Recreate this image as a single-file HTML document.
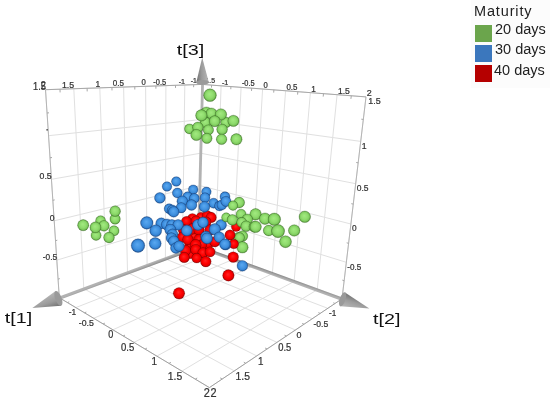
<!DOCTYPE html>
<html><head><meta charset="utf-8"><style>
html,body{margin:0;padding:0;background:#fff;}
#c{position:relative;width:550px;height:402px;overflow:hidden;background:#fff;font-family:"Liberation Sans",Arial,sans-serif;}
svg{position:absolute;left:0;top:0;}
.lg{position:absolute;left:471px;top:0;width:79px;height:88px;background:#fcfcfc;}
.lt{position:absolute;font-size:15.2px;color:#1e1e1e;white-space:nowrap;line-height:1;transform:scaleX(0.955);transform-origin:0 0;}
.sw{position:absolute;left:475px;width:17px;height:17px;}
</style></head><body><div id="c">
<div class="lg"></div>
<div class="lt" style="left:474.0px;top:3.2px;letter-spacing:0.9px;">Maturity</div>
<div class="sw" style="top:24.5px;background:#6ba54c;"></div>
<div class="sw" style="top:45px;background:#3b77bd;"></div>
<div class="sw" style="top:65.3px;background:#b50000;"></div>
<div class="lt" style="left:494.6px;top:20.8px;">20 days</div>
<div class="lt" style="left:494.6px;top:41.3px;">30 days</div>
<div class="lt" style="left:493.6px;top:61.8px;">40 days</div>
<svg width="550" height="402" viewBox="0 0 550 402">
<defs><linearGradient id="shaft_x" gradientUnits="userSpaceOnUse" x1="197.8" y1="245.2" x2="199.0" y2="248.3"><stop offset="0" stop-color="#b2b2b2"/><stop offset="0.5" stop-color="#9c9c9c"/><stop offset="1" stop-color="#787878"/></linearGradient><linearGradient id="cone_x" gradientUnits="userSpaceOnUse" x1="55.6" y1="291.0" x2="61.2" y2="305.8"><stop offset="0" stop-color="#b8b8b8"/><stop offset="0.55" stop-color="#9c9c9c"/><stop offset="0.9" stop-color="#7a7a7a"/><stop offset="1" stop-color="#686868"/></linearGradient><linearGradient id="shaft_y" gradientUnits="userSpaceOnUse" x1="197.8" y1="248.3" x2="198.9" y2="245.2"><stop offset="0" stop-color="#b2b2b2"/><stop offset="0.5" stop-color="#9c9c9c"/><stop offset="1" stop-color="#787878"/></linearGradient><linearGradient id="cone_y" gradientUnits="userSpaceOnUse" x1="340.2" y1="306.2" x2="345.0" y2="292.4"><stop offset="0" stop-color="#b8b8b8"/><stop offset="0.55" stop-color="#9c9c9c"/><stop offset="0.9" stop-color="#7a7a7a"/><stop offset="1" stop-color="#686868"/></linearGradient><linearGradient id="shaft_z" gradientUnits="userSpaceOnUse" x1="199.8" y1="246.7" x2="196.9" y2="246.8"><stop offset="0" stop-color="#b2b2b2"/><stop offset="0.5" stop-color="#9c9c9c"/><stop offset="1" stop-color="#787878"/></linearGradient><linearGradient id="cone_z" gradientUnits="userSpaceOnUse" x1="208.8" y1="82.3" x2="196.3" y2="82.5"><stop offset="0" stop-color="#b8b8b8"/><stop offset="0.55" stop-color="#9c9c9c"/><stop offset="0.9" stop-color="#7a7a7a"/><stop offset="1" stop-color="#686868"/></linearGradient><radialGradient id="g" cx="0.5" cy="0.5" r="0.5" fx="0.45" fy="0.4"><stop offset="0" stop-color="#a2ea80"/><stop offset="0.55" stop-color="#90dc6e"/><stop offset="0.8" stop-color="#7ecb5e"/><stop offset="0.91" stop-color="#62a646"/><stop offset="1" stop-color="#44792c"/></radialGradient><radialGradient id="b" cx="0.5" cy="0.5" r="0.5" fx="0.45" fy="0.4"><stop offset="0" stop-color="#5aa8f0"/><stop offset="0.55" stop-color="#4394e2"/><stop offset="0.8" stop-color="#3584d4"/><stop offset="0.91" stop-color="#2866ad"/><stop offset="1" stop-color="#1a4a85"/></radialGradient><radialGradient id="r" cx="0.5" cy="0.5" r="0.5" fx="0.45" fy="0.4"><stop offset="0" stop-color="#ff2424"/><stop offset="0.55" stop-color="#ff0000"/><stop offset="0.8" stop-color="#e60000"/><stop offset="0.91" stop-color="#b80000"/><stop offset="1" stop-color="#800000"/></radialGradient></defs>
<g shape-rendering="geometricPrecision">
<line x1="198.4" y1="246.8" x2="202.3" y2="84.4" stroke="#e0e0e0" stroke-width="1.0"/>
<line x1="182.4" y1="252.6" x2="184.8" y2="85.0" stroke="#e0e0e0" stroke-width="1.0"/>
<line x1="165.4" y1="258.9" x2="165.9" y2="85.6" stroke="#e0e0e0" stroke-width="1.0"/>
<line x1="147.1" y1="265.5" x2="145.6" y2="86.3" stroke="#e0e0e0" stroke-width="1.0"/>
<line x1="127.5" y1="272.7" x2="123.6" y2="87.0" stroke="#e0e0e0" stroke-width="1.0"/>
<line x1="106.5" y1="280.4" x2="99.8" y2="87.8" stroke="#e0e0e0" stroke-width="1.0"/>
<line x1="83.8" y1="288.7" x2="73.8" y2="88.7" stroke="#e0e0e0" stroke-width="1.0"/>
<line x1="59.3" y1="297.7" x2="45.5" y2="89.7" stroke="#e0e0e0" stroke-width="1.0"/>
<line x1="198.4" y1="246.8" x2="59.3" y2="297.7" stroke="#e0e0e0" stroke-width="1.0"/>
<line x1="199.1" y1="216.8" x2="56.8" y2="260.2" stroke="#e0e0e0" stroke-width="1.0"/>
<line x1="199.9" y1="185.6" x2="54.2" y2="220.8" stroke="#e0e0e0" stroke-width="1.0"/>
<line x1="200.6" y1="153.2" x2="51.4" y2="179.3" stroke="#e0e0e0" stroke-width="1.0"/>
<line x1="201.4" y1="119.5" x2="48.5" y2="135.7" stroke="#e0e0e0" stroke-width="1.0"/>
<line x1="202.3" y1="84.4" x2="45.5" y2="89.7" stroke="#e0e0e0" stroke-width="1.0"/>
<line x1="198.4" y1="246.8" x2="202.3" y2="84.4" stroke="#e0e0e0" stroke-width="1.0"/>
<line x1="215.3" y1="252.9" x2="221.1" y2="85.8" stroke="#e0e0e0" stroke-width="1.0"/>
<line x1="233.1" y1="259.4" x2="241.1" y2="87.3" stroke="#e0e0e0" stroke-width="1.0"/>
<line x1="252.2" y1="266.3" x2="262.6" y2="89.0" stroke="#e0e0e0" stroke-width="1.0"/>
<line x1="272.4" y1="273.6" x2="285.6" y2="90.7" stroke="#e0e0e0" stroke-width="1.0"/>
<line x1="294.1" y1="281.4" x2="310.4" y2="92.6" stroke="#e0e0e0" stroke-width="1.0"/>
<line x1="317.2" y1="289.8" x2="337.1" y2="94.6" stroke="#e0e0e0" stroke-width="1.0"/>
<line x1="342.0" y1="298.8" x2="366.0" y2="96.9" stroke="#e0e0e0" stroke-width="1.0"/>
<line x1="198.4" y1="246.8" x2="342.0" y2="298.8" stroke="#e0e0e0" stroke-width="1.0"/>
<line x1="199.1" y1="216.8" x2="346.3" y2="262.3" stroke="#e0e0e0" stroke-width="1.0"/>
<line x1="199.9" y1="185.6" x2="350.9" y2="224.0" stroke="#e0e0e0" stroke-width="1.0"/>
<line x1="200.6" y1="153.2" x2="355.7" y2="183.7" stroke="#e0e0e0" stroke-width="1.0"/>
<line x1="201.4" y1="119.5" x2="360.7" y2="141.4" stroke="#e0e0e0" stroke-width="1.0"/>
<line x1="202.3" y1="84.4" x2="366.0" y2="96.9" stroke="#e0e0e0" stroke-width="1.0"/>
<line x1="198.4" y1="246.8" x2="342.0" y2="298.8" stroke="#e0e0e0" stroke-width="1.0"/>
<line x1="182.4" y1="252.6" x2="327.7" y2="308.3" stroke="#e0e0e0" stroke-width="1.0"/>
<line x1="165.4" y1="258.9" x2="312.3" y2="318.7" stroke="#e0e0e0" stroke-width="1.0"/>
<line x1="147.1" y1="265.5" x2="295.4" y2="330.0" stroke="#e0e0e0" stroke-width="1.0"/>
<line x1="127.5" y1="272.7" x2="277.0" y2="342.4" stroke="#e0e0e0" stroke-width="1.0"/>
<line x1="106.5" y1="280.4" x2="256.7" y2="355.9" stroke="#e0e0e0" stroke-width="1.0"/>
<line x1="83.8" y1="288.7" x2="234.3" y2="370.9" stroke="#e0e0e0" stroke-width="1.0"/>
<line x1="59.3" y1="297.7" x2="209.4" y2="387.6" stroke="#e0e0e0" stroke-width="1.0"/>
<line x1="198.4" y1="246.8" x2="59.3" y2="297.7" stroke="#e0e0e0" stroke-width="1.0"/>
<line x1="215.3" y1="252.9" x2="75.8" y2="307.6" stroke="#e0e0e0" stroke-width="1.0"/>
<line x1="233.1" y1="259.4" x2="93.6" y2="318.3" stroke="#e0e0e0" stroke-width="1.0"/>
<line x1="252.2" y1="266.3" x2="112.9" y2="329.8" stroke="#e0e0e0" stroke-width="1.0"/>
<line x1="272.4" y1="273.6" x2="133.9" y2="342.4" stroke="#e0e0e0" stroke-width="1.0"/>
<line x1="294.1" y1="281.4" x2="156.8" y2="356.1" stroke="#e0e0e0" stroke-width="1.0"/>
<line x1="317.2" y1="289.8" x2="181.9" y2="371.1" stroke="#e0e0e0" stroke-width="1.0"/>
<line x1="342.0" y1="298.8" x2="209.4" y2="387.6" stroke="#e0e0e0" stroke-width="1.0"/>
<line x1="59.3" y1="297.7" x2="45.5" y2="89.7" stroke="#b4b4b4" stroke-width="1.0"/>
<line x1="342.0" y1="298.8" x2="366.0" y2="96.9" stroke="#b4b4b4" stroke-width="1.0"/>
<line x1="202.3" y1="84.4" x2="45.5" y2="89.7" stroke="#a8a8a8" stroke-width="1.0"/>
<line x1="202.3" y1="84.4" x2="366.0" y2="96.9" stroke="#a8a8a8" stroke-width="1.0"/>
<line x1="59.3" y1="297.7" x2="209.4" y2="387.6" stroke="#a2a2a2" stroke-width="1.0"/>
<line x1="342.0" y1="298.8" x2="209.4" y2="387.6" stroke="#a2a2a2" stroke-width="1.0"/>
<line x1="193.7" y1="84.7" x2="193.6" y2="87.2" stroke="#a8a8a8" stroke-width="1.0"/>
<line x1="335.0" y1="303.5" x2="333.2" y2="302.8" stroke="#a8a8a8" stroke-width="1.0"/>
<line x1="175.5" y1="85.3" x2="175.5" y2="87.9" stroke="#a8a8a8" stroke-width="1.0"/>
<line x1="320.2" y1="313.4" x2="318.3" y2="312.7" stroke="#a8a8a8" stroke-width="1.0"/>
<line x1="155.9" y1="85.9" x2="155.9" y2="88.7" stroke="#a8a8a8" stroke-width="1.0"/>
<line x1="304.0" y1="324.2" x2="302.2" y2="323.4" stroke="#a8a8a8" stroke-width="1.0"/>
<line x1="134.8" y1="86.7" x2="134.8" y2="89.5" stroke="#a8a8a8" stroke-width="1.0"/>
<line x1="286.4" y1="336.0" x2="284.5" y2="335.2" stroke="#a8a8a8" stroke-width="1.0"/>
<line x1="111.9" y1="87.4" x2="112.0" y2="90.4" stroke="#a8a8a8" stroke-width="1.0"/>
<line x1="267.1" y1="349.0" x2="265.1" y2="348.0" stroke="#a8a8a8" stroke-width="1.0"/>
<line x1="87.1" y1="88.3" x2="87.2" y2="91.4" stroke="#a8a8a8" stroke-width="1.0"/>
<line x1="245.8" y1="363.3" x2="243.8" y2="362.2" stroke="#a8a8a8" stroke-width="1.0"/>
<line x1="60.0" y1="89.2" x2="60.1" y2="92.4" stroke="#a8a8a8" stroke-width="1.0"/>
<line x1="222.2" y1="379.0" x2="220.2" y2="377.9" stroke="#a8a8a8" stroke-width="1.0"/>
<line x1="211.5" y1="85.1" x2="211.5" y2="87.6" stroke="#a8a8a8" stroke-width="1.0"/>
<line x1="67.4" y1="302.5" x2="69.2" y2="301.9" stroke="#a8a8a8" stroke-width="1.0"/>
<line x1="230.9" y1="86.6" x2="230.8" y2="89.2" stroke="#a8a8a8" stroke-width="1.0"/>
<line x1="84.5" y1="312.8" x2="86.3" y2="312.1" stroke="#a8a8a8" stroke-width="1.0"/>
<line x1="251.7" y1="88.1" x2="251.5" y2="90.9" stroke="#a8a8a8" stroke-width="1.0"/>
<line x1="103.1" y1="323.9" x2="104.9" y2="323.1" stroke="#a8a8a8" stroke-width="1.0"/>
<line x1="273.9" y1="89.8" x2="273.7" y2="92.6" stroke="#a8a8a8" stroke-width="1.0"/>
<line x1="123.2" y1="336.0" x2="125.0" y2="335.1" stroke="#a8a8a8" stroke-width="1.0"/>
<line x1="297.8" y1="91.7" x2="297.6" y2="94.6" stroke="#a8a8a8" stroke-width="1.0"/>
<line x1="145.1" y1="349.1" x2="146.9" y2="348.1" stroke="#a8a8a8" stroke-width="1.0"/>
<line x1="323.5" y1="93.6" x2="323.2" y2="96.6" stroke="#a8a8a8" stroke-width="1.0"/>
<line x1="169.0" y1="363.4" x2="170.9" y2="362.3" stroke="#a8a8a8" stroke-width="1.0"/>
<line x1="351.3" y1="95.7" x2="350.9" y2="98.9" stroke="#a8a8a8" stroke-width="1.0"/>
<line x1="195.3" y1="379.1" x2="197.2" y2="378.0" stroke="#a8a8a8" stroke-width="1.0"/>
<line x1="58.0" y1="279.2" x2="59.8" y2="278.6" stroke="#a8a8a8" stroke-width="1.0"/>
<line x1="344.1" y1="280.8" x2="342.3" y2="280.1" stroke="#a8a8a8" stroke-width="1.0"/>
<line x1="55.5" y1="240.7" x2="57.3" y2="240.2" stroke="#a8a8a8" stroke-width="1.0"/>
<line x1="348.6" y1="243.4" x2="346.7" y2="242.8" stroke="#a8a8a8" stroke-width="1.0"/>
<line x1="52.8" y1="200.3" x2="54.7" y2="199.9" stroke="#a8a8a8" stroke-width="1.0"/>
<line x1="353.3" y1="204.1" x2="351.3" y2="203.7" stroke="#a8a8a8" stroke-width="1.0"/>
<line x1="50.0" y1="157.8" x2="52.0" y2="157.5" stroke="#a8a8a8" stroke-width="1.0"/>
<line x1="358.2" y1="162.8" x2="356.2" y2="162.5" stroke="#a8a8a8" stroke-width="1.0"/>
<line x1="47.0" y1="113.0" x2="49.0" y2="112.8" stroke="#a8a8a8" stroke-width="1.0"/>
<line x1="363.3" y1="119.4" x2="361.3" y2="119.2" stroke="#a8a8a8" stroke-width="1.0"/>
</g>
<g font-family="Liberation Sans, Arial, sans-serif" fill="#333333" stroke="#333333" stroke-width="0.25">
<text transform="translate(202.6 83.4) scale(0.9 1)" text-anchor="end" font-size="7.71">-1.5</text>
<text transform="translate(185.1 84.0) scale(0.9 1)" text-anchor="end" font-size="7.99">-1</text>
<text transform="translate(166.2 84.6) scale(0.9 1)" text-anchor="end" font-size="8.29">-0.5</text>
<text transform="translate(145.9 85.3) scale(0.9 1)" text-anchor="end" font-size="8.61">0</text>
<text transform="translate(123.9 86.0) scale(0.9 1)" text-anchor="end" font-size="8.96">0.5</text>
<text transform="translate(100.1 86.8) scale(0.9 1)" text-anchor="end" font-size="9.34">1</text>
<text transform="translate(74.1 87.7) scale(0.9 1)" text-anchor="end" font-size="9.76">1.5</text>
<text transform="translate(45.8 88.7) scale(0.9 1)" text-anchor="end" font-size="10.21">2</text>
<text transform="translate(203.1 83.4) scale(0.9 1)" text-anchor="start" font-size="7.71">-1.5</text>
<text transform="translate(221.9 84.8) scale(0.9 1)" text-anchor="start" font-size="7.96">-1</text>
<text transform="translate(241.9 86.3) scale(0.9 1)" text-anchor="start" font-size="8.23">-0.5</text>
<text transform="translate(263.4 88.0) scale(0.9 1)" text-anchor="start" font-size="8.52">0</text>
<text transform="translate(286.4 89.7) scale(0.9 1)" text-anchor="start" font-size="8.83">0.5</text>
<text transform="translate(311.2 91.6) scale(0.9 1)" text-anchor="start" font-size="9.17">1</text>
<text transform="translate(337.9 93.6) scale(0.9 1)" text-anchor="start" font-size="9.53">1.5</text>
<text transform="translate(366.8 95.9) scale(0.9 1)" text-anchor="start" font-size="9.92">2</text>
<text transform="translate(57.1 260.2) scale(0.9 1)" text-anchor="end" font-size="9.20">-0.5</text>
<text transform="translate(347.3 269.5) scale(0.9 1)" text-anchor="start" font-size="8.97">-0.5</text>
<text transform="translate(54.5 220.8) scale(0.9 1)" text-anchor="end" font-size="9.44">0</text>
<text transform="translate(351.9 231.4) scale(0.9 1)" text-anchor="start" font-size="9.19">0</text>
<text transform="translate(51.7 179.3) scale(0.9 1)" text-anchor="end" font-size="9.68">0.5</text>
<text transform="translate(356.7 191.3) scale(0.9 1)" text-anchor="start" font-size="9.42">0.5</text>
<text transform="translate(45.8 89.7) scale(0.9 1)" text-anchor="end" font-size="10.21">1.5</text>
<text transform="translate(368.2 103.6) scale(0.9 1)" text-anchor="start" font-size="9.92">1.5</text>
<text transform="translate(361.7 149.2) scale(0.9 1)" text-anchor="start" font-size="9.66">1</text>
<text transform="translate(76.1 315.3) scale(0.9 1)" text-anchor="end" font-size="9.33">-1</text>
<text transform="translate(93.9 326.2) scale(0.9 1)" text-anchor="end" font-size="9.70">-0.5</text>
<text transform="translate(113.2 338.1) scale(0.9 1)" text-anchor="end" font-size="10.11">0</text>
<text transform="translate(134.2 351.0) scale(0.9 1)" text-anchor="end" font-size="10.55">0.5</text>
<text transform="translate(157.1 365.0) scale(0.9 1)" text-anchor="end" font-size="11.02">1</text>
<text transform="translate(182.2 380.4) scale(0.9 1)" text-anchor="end" font-size="11.55">1.5</text>
<text transform="translate(209.7 397.3) scale(0.9 1)" text-anchor="end" font-size="12.13">2</text>
<text transform="translate(328.9 315.9) scale(0.9 1)" text-anchor="start" font-size="9.12">-1</text>
<text transform="translate(313.5 326.6) scale(0.9 1)" text-anchor="start" font-size="9.51">-0.5</text>
<text transform="translate(296.6 338.2) scale(0.9 1)" text-anchor="start" font-size="9.94">0</text>
<text transform="translate(278.2 350.9) scale(0.9 1)" text-anchor="start" font-size="10.41">0.5</text>
<text transform="translate(257.9 364.8) scale(0.9 1)" text-anchor="start" font-size="10.93">1</text>
<text transform="translate(235.5 380.2) scale(0.9 1)" text-anchor="start" font-size="11.50">1.5</text>
<text transform="translate(210.6 397.3) scale(0.9 1)" text-anchor="start" font-size="12.13">2</text>
</g>
<polygon points="199.8,246.7 204.0,82.4 201.2,82.4 196.9,246.8" fill="url(#shaft_z)"/>
<polygon points="208.8,82.3 202.2,57.4 196.3,82.5" fill="url(#cone_z)"/>
<ellipse cx="202.6" cy="82.4" rx="6.3" ry="2.5" transform="rotate(-0.9 202.6 82.4)" fill="#9a9a9a"/>
<polygon points="197.8,245.2 57.8,296.9 59.0,299.9 199.0,248.3" fill="url(#shaft_x)"/>
<polygon points="55.6,291.0 32.4,308.1 61.2,305.8" fill="url(#cone_x)"/>
<ellipse cx="58.4" cy="298.4" rx="7.9" ry="3.2" transform="rotate(-110.5 58.4 298.4)" fill="#9a9a9a"/>
<polygon points="197.8,248.3 342.1,300.9 343.1,297.7 198.9,245.2" fill="url(#shaft_y)"/>
<polygon points="340.2,306.2 369.3,308.6 345.0,292.4" fill="url(#cone_y)"/>
<ellipse cx="342.6" cy="299.3" rx="7.4" ry="2.9" transform="rotate(109.2 342.6 299.3)" fill="#9a9a9a"/>
<circle cx="206.4" cy="112.5" r="5.6" fill="url(#g)" stroke="#44792c" stroke-width="0.5" stroke-opacity="0.6"/>
<circle cx="211.4" cy="113.5" r="5.6" fill="url(#g)" stroke="#44792c" stroke-width="0.5" stroke-opacity="0.6"/>
<circle cx="205.4" cy="122.4" r="5.4" fill="url(#g)" stroke="#44792c" stroke-width="0.5" stroke-opacity="0.6"/>
<circle cx="225.9" cy="122.4" r="5.3" fill="url(#g)" stroke="#44792c" stroke-width="0.5" stroke-opacity="0.6"/>
<circle cx="220.9" cy="114.5" r="5.8" fill="url(#g)" stroke="#44792c" stroke-width="0.5" stroke-opacity="0.6"/>
<circle cx="201.4" cy="115.4" r="5.8" fill="url(#g)" stroke="#44792c" stroke-width="0.5" stroke-opacity="0.6"/>
<circle cx="214.7" cy="121.2" r="5.6" fill="url(#g)" stroke="#44792c" stroke-width="0.5" stroke-opacity="0.6"/>
<circle cx="233.4" cy="120.9" r="5.7" fill="url(#g)" stroke="#44792c" stroke-width="0.5" stroke-opacity="0.6"/>
<circle cx="189.5" cy="128.9" r="5.0" fill="url(#g)" stroke="#44792c" stroke-width="0.5" stroke-opacity="0.6"/>
<circle cx="197.9" cy="127.4" r="5.4" fill="url(#g)" stroke="#44792c" stroke-width="0.5" stroke-opacity="0.6"/>
<circle cx="208.4" cy="129.9" r="5.2" fill="url(#g)" stroke="#44792c" stroke-width="0.5" stroke-opacity="0.6"/>
<circle cx="222.1" cy="129.4" r="5.4" fill="url(#g)" stroke="#44792c" stroke-width="0.5" stroke-opacity="0.6"/>
<circle cx="196.4" cy="134.9" r="5.7" fill="url(#g)" stroke="#44792c" stroke-width="0.5" stroke-opacity="0.6"/>
<circle cx="206.9" cy="138.3" r="5.2" fill="url(#g)" stroke="#44792c" stroke-width="0.5" stroke-opacity="0.6"/>
<circle cx="221.6" cy="139.3" r="5.3" fill="url(#g)" stroke="#44792c" stroke-width="0.5" stroke-opacity="0.6"/>
<circle cx="236.4" cy="139.3" r="5.7" fill="url(#g)" stroke="#44792c" stroke-width="0.5" stroke-opacity="0.6"/>
<circle cx="210.0" cy="95.2" r="6.4" fill="url(#g)" stroke="#44792c" stroke-width="0.5" stroke-opacity="0.6"/>
<circle cx="100.6" cy="220.7" r="5.0" fill="url(#g)" stroke="#44792c" stroke-width="0.5" stroke-opacity="0.6"/>
<circle cx="115.1" cy="219.0" r="5.2" fill="url(#g)" stroke="#44792c" stroke-width="0.5" stroke-opacity="0.6"/>
<circle cx="96.1" cy="235.3" r="5.1" fill="url(#g)" stroke="#44792c" stroke-width="0.5" stroke-opacity="0.6"/>
<circle cx="114.0" cy="230.8" r="5.1" fill="url(#g)" stroke="#44792c" stroke-width="0.5" stroke-opacity="0.6"/>
<circle cx="83.2" cy="225.2" r="5.6" fill="url(#g)" stroke="#44792c" stroke-width="0.5" stroke-opacity="0.6"/>
<circle cx="115.1" cy="211.2" r="5.4" fill="url(#g)" stroke="#44792c" stroke-width="0.5" stroke-opacity="0.6"/>
<circle cx="103.9" cy="225.8" r="5.4" fill="url(#g)" stroke="#44792c" stroke-width="0.5" stroke-opacity="0.6"/>
<circle cx="95.5" cy="227.4" r="5.6" fill="url(#g)" stroke="#44792c" stroke-width="0.5" stroke-opacity="0.6"/>
<circle cx="109.0" cy="237.5" r="5.4" fill="url(#g)" stroke="#44792c" stroke-width="0.5" stroke-opacity="0.6"/>
<circle cx="189.5" cy="244.5" r="4.8" fill="url(#r)" stroke="#800000" stroke-width="0.5" stroke-opacity="0.35"/>
<circle cx="190.0" cy="254.0" r="4.8" fill="url(#r)" stroke="#800000" stroke-width="0.5" stroke-opacity="0.35"/>
<circle cx="192.4" cy="218.6" r="5.2" fill="url(#r)" stroke="#800000" stroke-width="0.5" stroke-opacity="0.35"/>
<circle cx="201.1" cy="217.4" r="5.2" fill="url(#r)" stroke="#800000" stroke-width="0.5" stroke-opacity="0.35"/>
<circle cx="207.3" cy="215.9" r="5.3" fill="url(#r)" stroke="#800000" stroke-width="0.5" stroke-opacity="0.35"/>
<circle cx="211.1" cy="217.4" r="5.3" fill="url(#r)" stroke="#800000" stroke-width="0.5" stroke-opacity="0.35"/>
<circle cx="186.5" cy="221.5" r="5.2" fill="url(#r)" stroke="#800000" stroke-width="0.5" stroke-opacity="0.35"/>
<circle cx="196.0" cy="221.0" r="5.2" fill="url(#r)" stroke="#800000" stroke-width="0.5" stroke-opacity="0.35"/>
<circle cx="206.0" cy="222.0" r="5.2" fill="url(#r)" stroke="#800000" stroke-width="0.5" stroke-opacity="0.35"/>
<circle cx="236.1" cy="226.8" r="4.8" fill="url(#r)" stroke="#800000" stroke-width="0.5" stroke-opacity="0.35"/>
<circle cx="183.5" cy="229.7" r="5.4" fill="url(#r)" stroke="#800000" stroke-width="0.5" stroke-opacity="0.35"/>
<circle cx="194.0" cy="236.0" r="5.0" fill="url(#r)" stroke="#800000" stroke-width="0.5" stroke-opacity="0.35"/>
<circle cx="192.2" cy="229.0" r="5.4" fill="url(#r)" stroke="#800000" stroke-width="0.5" stroke-opacity="0.35"/>
<circle cx="199.0" cy="230.0" r="5.4" fill="url(#r)" stroke="#800000" stroke-width="0.5" stroke-opacity="0.35"/>
<circle cx="210.0" cy="230.0" r="5.4" fill="url(#r)" stroke="#800000" stroke-width="0.5" stroke-opacity="0.35"/>
<circle cx="182.3" cy="237.2" r="5.2" fill="url(#r)" stroke="#800000" stroke-width="0.5" stroke-opacity="0.35"/>
<circle cx="187.9" cy="239.5" r="5.4" fill="url(#r)" stroke="#800000" stroke-width="0.5" stroke-opacity="0.35"/>
<circle cx="199.1" cy="239.5" r="5.4" fill="url(#r)" stroke="#800000" stroke-width="0.5" stroke-opacity="0.35"/>
<circle cx="207.9" cy="244.2" r="5.2" fill="url(#r)" stroke="#800000" stroke-width="0.5" stroke-opacity="0.35"/>
<circle cx="214.8" cy="241.7" r="5.3" fill="url(#r)" stroke="#800000" stroke-width="0.5" stroke-opacity="0.35"/>
<circle cx="202.0" cy="244.5" r="5.0" fill="url(#r)" stroke="#800000" stroke-width="0.5" stroke-opacity="0.35"/>
<circle cx="195.7" cy="244.9" r="5.6" fill="url(#r)" stroke="#800000" stroke-width="0.5" stroke-opacity="0.35"/>
<circle cx="185.6" cy="250.5" r="5.4" fill="url(#r)" stroke="#800000" stroke-width="0.5" stroke-opacity="0.35"/>
<circle cx="195.8" cy="249.6" r="5.4" fill="url(#r)" stroke="#800000" stroke-width="0.5" stroke-opacity="0.35"/>
<circle cx="203.0" cy="252.9" r="5.4" fill="url(#r)" stroke="#800000" stroke-width="0.5" stroke-opacity="0.35"/>
<circle cx="210.0" cy="251.9" r="5.2" fill="url(#r)" stroke="#800000" stroke-width="0.5" stroke-opacity="0.35"/>
<circle cx="196.7" cy="258.1" r="5.0" fill="url(#r)" stroke="#800000" stroke-width="0.5" stroke-opacity="0.35"/>
<circle cx="184.2" cy="257.4" r="5.3" fill="url(#r)" stroke="#800000" stroke-width="0.5" stroke-opacity="0.35"/>
<circle cx="205.8" cy="261.6" r="5.4" fill="url(#r)" stroke="#800000" stroke-width="0.5" stroke-opacity="0.35"/>
<circle cx="176.3" cy="181.5" r="4.8" fill="url(#b)" stroke="#1a4a85" stroke-width="0.5" stroke-opacity="0.6"/>
<circle cx="167.0" cy="186.5" r="4.8" fill="url(#b)" stroke="#1a4a85" stroke-width="0.5" stroke-opacity="0.6"/>
<circle cx="193.2" cy="189.7" r="4.8" fill="url(#b)" stroke="#1a4a85" stroke-width="0.5" stroke-opacity="0.6"/>
<circle cx="206.4" cy="191.8" r="4.8" fill="url(#b)" stroke="#1a4a85" stroke-width="0.5" stroke-opacity="0.6"/>
<circle cx="225.0" cy="196.8" r="5.0" fill="url(#b)" stroke="#1a4a85" stroke-width="0.5" stroke-opacity="0.6"/>
<circle cx="205.0" cy="197.7" r="5.0" fill="url(#b)" stroke="#1a4a85" stroke-width="0.5" stroke-opacity="0.6"/>
<circle cx="187.7" cy="196.8" r="5.0" fill="url(#b)" stroke="#1a4a85" stroke-width="0.5" stroke-opacity="0.6"/>
<circle cx="194.3" cy="198.4" r="5.0" fill="url(#b)" stroke="#1a4a85" stroke-width="0.5" stroke-opacity="0.6"/>
<circle cx="177.4" cy="193.0" r="5.0" fill="url(#b)" stroke="#1a4a85" stroke-width="0.5" stroke-opacity="0.6"/>
<circle cx="159.9" cy="197.9" r="5.4" fill="url(#b)" stroke="#1a4a85" stroke-width="0.5" stroke-opacity="0.6"/>
<circle cx="182.3" cy="201.2" r="5.4" fill="url(#b)" stroke="#1a4a85" stroke-width="0.5" stroke-opacity="0.6"/>
<circle cx="213.6" cy="203.2" r="5.0" fill="url(#b)" stroke="#1a4a85" stroke-width="0.5" stroke-opacity="0.6"/>
<circle cx="219.5" cy="205.9" r="5.0" fill="url(#b)" stroke="#1a4a85" stroke-width="0.5" stroke-opacity="0.6"/>
<circle cx="221.8" cy="205.0" r="5.0" fill="url(#b)" stroke="#1a4a85" stroke-width="0.5" stroke-opacity="0.6"/>
<circle cx="225.9" cy="201.4" r="5.2" fill="url(#b)" stroke="#1a4a85" stroke-width="0.5" stroke-opacity="0.6"/>
<circle cx="191.5" cy="205.0" r="5.4" fill="url(#b)" stroke="#1a4a85" stroke-width="0.5" stroke-opacity="0.6"/>
<circle cx="204.5" cy="206.8" r="5.4" fill="url(#b)" stroke="#1a4a85" stroke-width="0.5" stroke-opacity="0.6"/>
<circle cx="169.2" cy="208.8" r="5.0" fill="url(#b)" stroke="#1a4a85" stroke-width="0.5" stroke-opacity="0.6"/>
<circle cx="181.2" cy="207.7" r="5.2" fill="url(#b)" stroke="#1a4a85" stroke-width="0.5" stroke-opacity="0.6"/>
<circle cx="172.4" cy="210.4" r="5.4" fill="url(#b)" stroke="#1a4a85" stroke-width="0.5" stroke-opacity="0.6"/>
<circle cx="173.7" cy="211.8" r="5.4" fill="url(#b)" stroke="#1a4a85" stroke-width="0.5" stroke-opacity="0.6"/>
<circle cx="161.3" cy="223.4" r="5.6" fill="url(#b)" stroke="#1a4a85" stroke-width="0.5" stroke-opacity="0.6"/>
<circle cx="166.9" cy="224.5" r="5.6" fill="url(#b)" stroke="#1a4a85" stroke-width="0.5" stroke-opacity="0.6"/>
<circle cx="146.8" cy="222.9" r="6.3" fill="url(#b)" stroke="#1a4a85" stroke-width="0.5" stroke-opacity="0.6"/>
<circle cx="171.9" cy="224.9" r="5.4" fill="url(#b)" stroke="#1a4a85" stroke-width="0.5" stroke-opacity="0.6"/>
<circle cx="178.1" cy="224.9" r="5.4" fill="url(#b)" stroke="#1a4a85" stroke-width="0.5" stroke-opacity="0.6"/>
<circle cx="155.7" cy="230.7" r="6.0" fill="url(#b)" stroke="#1a4a85" stroke-width="0.5" stroke-opacity="0.6"/>
<circle cx="170.3" cy="229.6" r="5.6" fill="url(#b)" stroke="#1a4a85" stroke-width="0.5" stroke-opacity="0.6"/>
<circle cx="186.8" cy="230.5" r="5.6" fill="url(#b)" stroke="#1a4a85" stroke-width="0.5" stroke-opacity="0.6"/>
<circle cx="198.0" cy="224.9" r="5.6" fill="url(#b)" stroke="#1a4a85" stroke-width="0.5" stroke-opacity="0.6"/>
<circle cx="203.0" cy="222.4" r="5.4" fill="url(#b)" stroke="#1a4a85" stroke-width="0.5" stroke-opacity="0.6"/>
<circle cx="221.1" cy="224.9" r="5.4" fill="url(#b)" stroke="#1a4a85" stroke-width="0.5" stroke-opacity="0.6"/>
<circle cx="214.8" cy="229.3" r="5.8" fill="url(#b)" stroke="#1a4a85" stroke-width="0.5" stroke-opacity="0.6"/>
<circle cx="172.5" cy="234.2" r="5.4" fill="url(#b)" stroke="#1a4a85" stroke-width="0.5" stroke-opacity="0.6"/>
<circle cx="171.4" cy="238.0" r="5.4" fill="url(#b)" stroke="#1a4a85" stroke-width="0.5" stroke-opacity="0.6"/>
<circle cx="173.7" cy="241.1" r="5.4" fill="url(#b)" stroke="#1a4a85" stroke-width="0.5" stroke-opacity="0.6"/>
<circle cx="138.0" cy="245.6" r="6.8" fill="url(#b)" stroke="#1a4a85" stroke-width="0.5" stroke-opacity="0.6"/>
<circle cx="155.2" cy="243.6" r="6.0" fill="url(#b)" stroke="#1a4a85" stroke-width="0.5" stroke-opacity="0.6"/>
<circle cx="175.9" cy="248.0" r="5.4" fill="url(#b)" stroke="#1a4a85" stroke-width="0.5" stroke-opacity="0.6"/>
<circle cx="179.0" cy="246.2" r="5.4" fill="url(#b)" stroke="#1a4a85" stroke-width="0.5" stroke-opacity="0.6"/>
<circle cx="206.1" cy="236.7" r="5.6" fill="url(#b)" stroke="#1a4a85" stroke-width="0.5" stroke-opacity="0.6"/>
<circle cx="207.0" cy="238.4" r="5.6" fill="url(#b)" stroke="#1a4a85" stroke-width="0.5" stroke-opacity="0.6"/>
<circle cx="219.3" cy="237.2" r="5.4" fill="url(#b)" stroke="#1a4a85" stroke-width="0.5" stroke-opacity="0.6"/>
<circle cx="239.2" cy="202.5" r="5.4" fill="url(#g)" stroke="#44792c" stroke-width="0.5" stroke-opacity="0.6"/>
<circle cx="233.0" cy="205.6" r="4.8" fill="url(#g)" stroke="#44792c" stroke-width="0.5" stroke-opacity="0.6"/>
<circle cx="255.6" cy="214.3" r="5.8" fill="url(#g)" stroke="#44792c" stroke-width="0.5" stroke-opacity="0.6"/>
<circle cx="265.0" cy="218.7" r="5.8" fill="url(#g)" stroke="#44792c" stroke-width="0.5" stroke-opacity="0.6"/>
<circle cx="268.7" cy="230.5" r="5.4" fill="url(#g)" stroke="#44792c" stroke-width="0.5" stroke-opacity="0.6"/>
<circle cx="226.2" cy="217.4" r="4.6" fill="url(#g)" stroke="#44792c" stroke-width="0.5" stroke-opacity="0.6"/>
<circle cx="232.4" cy="219.9" r="5.4" fill="url(#g)" stroke="#44792c" stroke-width="0.5" stroke-opacity="0.6"/>
<circle cx="241.1" cy="214.3" r="5.1" fill="url(#g)" stroke="#44792c" stroke-width="0.5" stroke-opacity="0.6"/>
<circle cx="247.3" cy="219.3" r="5.4" fill="url(#g)" stroke="#44792c" stroke-width="0.5" stroke-opacity="0.6"/>
<circle cx="241.7" cy="222.4" r="5.1" fill="url(#g)" stroke="#44792c" stroke-width="0.5" stroke-opacity="0.6"/>
<circle cx="246.1" cy="226.2" r="5.4" fill="url(#g)" stroke="#44792c" stroke-width="0.5" stroke-opacity="0.6"/>
<circle cx="254.2" cy="226.8" r="5.4" fill="url(#g)" stroke="#44792c" stroke-width="0.5" stroke-opacity="0.6"/>
<circle cx="255.6" cy="226.8" r="5.8" fill="url(#g)" stroke="#44792c" stroke-width="0.5" stroke-opacity="0.6"/>
<circle cx="304.8" cy="216.8" r="5.8" fill="url(#g)" stroke="#44792c" stroke-width="0.5" stroke-opacity="0.6"/>
<circle cx="274.3" cy="219.3" r="6.3" fill="url(#g)" stroke="#44792c" stroke-width="0.5" stroke-opacity="0.6"/>
<circle cx="294.2" cy="230.5" r="5.8" fill="url(#g)" stroke="#44792c" stroke-width="0.5" stroke-opacity="0.6"/>
<circle cx="278.0" cy="231.1" r="6.6" fill="url(#g)" stroke="#44792c" stroke-width="0.5" stroke-opacity="0.6"/>
<circle cx="285.5" cy="241.7" r="6.0" fill="url(#g)" stroke="#44792c" stroke-width="0.5" stroke-opacity="0.6"/>
<circle cx="238.0" cy="237.4" r="4.8" fill="url(#g)" stroke="#44792c" stroke-width="0.5" stroke-opacity="0.6"/>
<circle cx="242.4" cy="236.1" r="5.4" fill="url(#g)" stroke="#44792c" stroke-width="0.5" stroke-opacity="0.6"/>
<circle cx="239.6" cy="237.6" r="5.0" fill="url(#g)" stroke="#44792c" stroke-width="0.5" stroke-opacity="0.6"/>
<circle cx="242.4" cy="247.3" r="5.8" fill="url(#g)" stroke="#44792c" stroke-width="0.5" stroke-opacity="0.6"/>
<circle cx="230.0" cy="235.0" r="5.2" fill="url(#r)" stroke="#800000" stroke-width="0.5" stroke-opacity="0.35"/>
<circle cx="233.8" cy="244.0" r="4.8" fill="url(#r)" stroke="#800000" stroke-width="0.5" stroke-opacity="0.35"/>
<circle cx="225.6" cy="244.6" r="5.4" fill="url(#b)" stroke="#1a4a85" stroke-width="0.5" stroke-opacity="0.6"/>
<circle cx="224.9" cy="244.2" r="5.4" fill="url(#b)" stroke="#1a4a85" stroke-width="0.5" stroke-opacity="0.6"/>
<circle cx="233.2" cy="257.1" r="5.4" fill="url(#r)" stroke="#800000" stroke-width="0.5" stroke-opacity="0.35"/>
<circle cx="242.4" cy="265.8" r="5.4" fill="url(#b)" stroke="#1a4a85" stroke-width="0.5" stroke-opacity="0.6"/>
<circle cx="228.4" cy="275.4" r="5.8" fill="url(#r)" stroke="#800000" stroke-width="0.5" stroke-opacity="0.35"/>
<circle cx="179.0" cy="293.3" r="5.8" fill="url(#r)" stroke="#800000" stroke-width="0.5" stroke-opacity="0.35"/>
<rect x="46.4" y="129" width="1.5" height="1.6" fill="#555"/>
<g font-family="Liberation Sans, Arial, sans-serif" fill="#111" font-size="15">
<text x="176.7" y="55.3" textLength="27.6" lengthAdjust="spacingAndGlyphs">t[3]</text>
<text x="4.8" y="323.3" textLength="27.4" lengthAdjust="spacingAndGlyphs">t[1]</text>
<text x="373.0" y="324.2" textLength="27.4" lengthAdjust="spacingAndGlyphs">t[2]</text>
</g>
</svg>
</div></body></html>
